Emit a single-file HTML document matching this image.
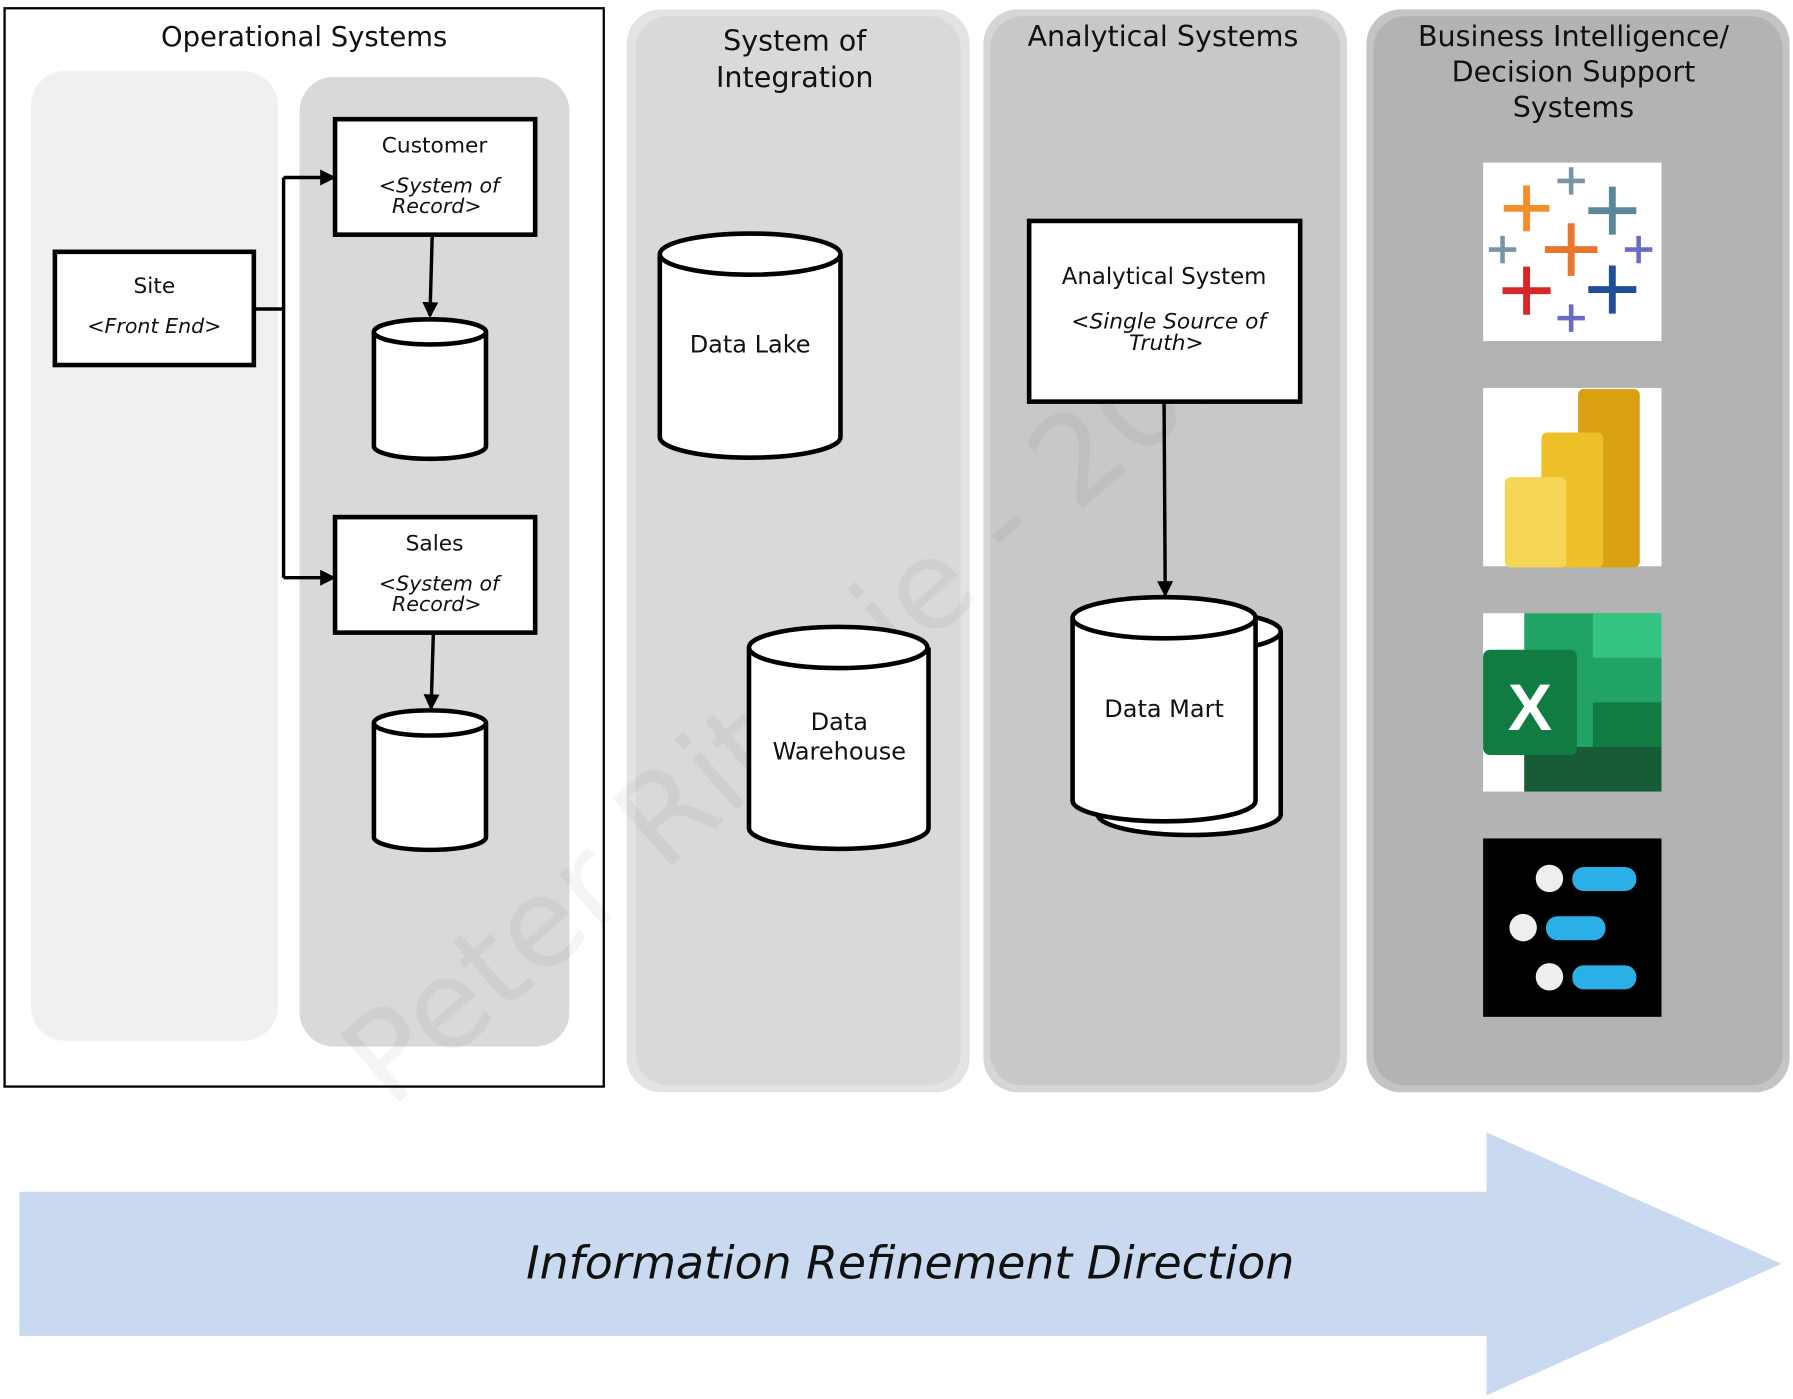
<!DOCTYPE html>
<html><head><meta charset="utf-8"><style>
html,body{margin:0;padding:0;background:#fff;}
svg{display:block}
text{font-family:"DejaVu Sans","Liberation Sans",sans-serif;fill:#111}
</style></head><body>
<svg width="1793" height="1399" viewBox="0 0 1568 1223" xmlns="http://www.w3.org/2000/svg">
<defs>
<marker id="ah" markerWidth="14" markerHeight="14" refX="12" refY="7" orient="auto" markerUnits="userSpaceOnUse" viewBox="0 0 14 14">
<path d="M0,0 L14,7 L0,14 z" fill="#000"/></marker>
</defs>
<rect x="0" y="0" width="1568" height="1223" fill="#fff"/>
<rect x="4" y="7" width="524" height="943" fill="#fff" stroke="#000" stroke-width="2"/>
<rect x="27" y="62" width="216" height="848" rx="30" fill="#f0f0f0"/>
<rect x="262" y="67" width="236" height="848" rx="30" fill="#d9d9d9"/>
<text x="266" y="40" font-size="24" text-anchor="middle">Operational Systems</text>
<rect x="548" y="8" width="300" height="947" rx="30" fill="#e3e3e3"/>
<rect x="556" y="14" width="284" height="935" rx="28" fill="#d9d9d9"/>
<text x="695" y="44" font-size="25" text-anchor="middle">System of</text>
<text x="695" y="76" font-size="25" text-anchor="middle">Integration</text>
<rect x="860" y="8" width="318" height="947" rx="30" fill="#d6d6d6"/>
<rect x="866" y="14" width="306" height="935" rx="28" fill="#c8c8c8"/>
<text x="1017" y="40" font-size="25" text-anchor="middle">Analytical Systems</text>
<rect x="1195" y="8" width="370" height="947" rx="30" fill="#c4c4c4"/>
<rect x="1201" y="14" width="358" height="935" rx="28" fill="#b3b3b3"/>
<text x="1376" y="40" font-size="25" text-anchor="middle">Business Intelligence/</text>
<text x="1376" y="71" font-size="25" text-anchor="middle">Decision Support</text>
<text x="1376" y="102" font-size="25" text-anchor="middle">Systems</text>

<text x="0" y="0" font-size="108" text-anchor="middle" transform="translate(745,620) rotate(-41)" style="fill:#000;fill-opacity:0.045">Peter Ritchie - 2025</text>

<rect x="48" y="220" width="174" height="99" fill="#fff" stroke="#000" stroke-width="4"/>
<text x="135" y="256" font-size="19" text-anchor="middle">Site</text>
<text x="135" y="291" font-size="18" text-anchor="middle" font-style="italic">&lt;Front End&gt;</text>
<rect x="293" y="104" width="175" height="101" fill="#fff" stroke="#000" stroke-width="4"/>
<text x="380" y="133" font-size="19" text-anchor="middle">Customer</text>
<text x="384" y="168" font-size="18" text-anchor="middle" font-style="italic">&lt;System of</text>
<text x="382" y="186" font-size="18" text-anchor="middle" font-style="italic">Record&gt;</text>
<rect x="293" y="452" width="175" height="101" fill="#fff" stroke="#000" stroke-width="4"/>
<text x="380" y="481" font-size="19" text-anchor="middle">Sales</text>
<text x="384" y="516" font-size="18" text-anchor="middle" font-style="italic">&lt;System of</text>
<text x="382" y="534" font-size="18" text-anchor="middle" font-style="italic">Record&gt;</text>
<path d="M222,270 L248,270 M248,155 L248,505" stroke="#000" stroke-width="3" fill="none"/>
<path d="M248,155 L292,155" stroke="#000" stroke-width="3" marker-end="url(#ah)"/>
<path d="M248,505 L292,505" stroke="#000" stroke-width="3" marker-end="url(#ah)"/>
<path d="M378,205 L376,276" stroke="#000" stroke-width="3" marker-end="url(#ah)"/>
<path d="M379,553 L377,619" stroke="#000" stroke-width="3" marker-end="url(#ah)"/>

<g stroke="#000" stroke-width="4" fill="#fff">
<path d="M327,290 L327,390 A49,11 0 0 0 425,390 L425,290"/>
<ellipse cx="376" cy="290" rx="49" ry="11"/>
<path d="M327,632 L327,732 A49,11 0 0 0 425,732 L425,632"/>
<ellipse cx="376" cy="632" rx="49" ry="11"/>
<path d="M577,222 L577,382 A79,18 0 0 0 735,382 L735,222"/>
<ellipse cx="656" cy="222" rx="79" ry="18"/>
<path d="M655,566 L655,724 A78,18 0 0 0 812,724 L812,566"/>
<ellipse cx="733" cy="566" rx="78" ry="18"/>
<path d="M960,552 L960,712 A80,18 0 0 0 1120,712 L1120,552"/>
<ellipse cx="1040" cy="552" rx="80" ry="18"/>
<path d="M938,540 L938,700 A80,18 0 0 0 1098,700 L1098,540"/>
<ellipse cx="1018" cy="540" rx="80" ry="18"/>
</g>
<text x="656" y="308" font-size="21" text-anchor="middle">Data Lake</text>
<text x="734" y="638" font-size="21" text-anchor="middle">Data</text>
<text x="734" y="664" font-size="21" text-anchor="middle">Warehouse</text>
<text x="1018" y="627" font-size="21" text-anchor="middle">Data Mart</text>

<rect x="900" y="193" width="237" height="158" fill="#fff" stroke="#000" stroke-width="4"/>
<text x="1018" y="248" font-size="20" text-anchor="middle">Analytical System</text>
<text x="1022" y="287" font-size="19" text-anchor="middle" font-style="italic">&lt;Single Source of</text>
<text x="1020" y="306" font-size="19" text-anchor="middle" font-style="italic">Truth&gt;</text>
<path d="M1018,351 L1019,520" stroke="#000" stroke-width="3" marker-end="url(#ah)"/>

<rect x="1297" y="142" width="156" height="156" fill="#fff"/>
<g stroke-width="6" fill="none">
<path d="M1374,195 v46 M1351,218 h46" stroke="#e8762d"/>
<path d="M1335,162 v40 M1315,182 h40" stroke="#f28e2b"/>
<path d="M1410,163 v42 M1389,184 h42" stroke="#59879b"/>
<path d="M1335,233 v42 M1314,254 h42" stroke="#d62728"/>
<path d="M1410,232 v42 M1389,253 h42" stroke="#1f4e9b"/>
<path d="M1374,146 v24 M1362,158 h24" stroke="#7895a8" stroke-width="4"/>
<path d="M1314,206 v24 M1302,218 h24" stroke="#7895a8" stroke-width="4"/>
<path d="M1433,206 v24 M1421,218 h24" stroke="#6a6bc8" stroke-width="4"/>
<path d="M1374,266 v24 M1362,278 h24" stroke="#6a6bc8" stroke-width="4"/>
</g>
<rect x="1297" y="339" width="156" height="156" fill="#fff"/>
<rect x="1380" y="340" width="54" height="156" rx="5" fill="#d9a112"/>
<rect x="1348" y="378" width="54" height="118" rx="5" fill="#eec027"/>
<rect x="1316" y="417" width="54" height="79" rx="5" fill="#f5d656"/>
<rect x="1297" y="536" width="156" height="156" fill="#fff"/>
<rect x="1333" y="536" width="120" height="156" fill="#21a366"/>
<rect x="1393" y="536" width="60" height="39" fill="#33c481"/>
<rect x="1393" y="614" width="60" height="39" fill="#107c41"/>
<rect x="1333" y="653" width="120" height="39" fill="#185c37"/>
<rect x="1297" y="568" width="82" height="92" rx="6" fill="#107c41"/>
<text x="1338" y="638" font-size="58" font-weight="bold" text-anchor="middle" style="fill:#fff;font-family:'Liberation Sans',sans-serif">X</text>
<rect x="1297" y="733" width="156" height="156" fill="#000"/>
<circle cx="1355" cy="768" r="12" fill="#eee"/>
<circle cx="1332" cy="811" r="12" fill="#eee"/>
<circle cx="1355" cy="854" r="12" fill="#eee"/>
<rect x="1375" y="758" width="56" height="21" rx="10" fill="#2ab0e6"/>
<rect x="1352" y="801" width="52" height="21" rx="10" fill="#2ab0e6"/>
<rect x="1375" y="844" width="56" height="21" rx="10" fill="#2ab0e6"/>

<path d="M17,1042 L1300,1042 L1300,990 L1558,1105 L1300,1220 L1300,1168 L17,1168 Z" fill="#c9d9ef"/>
<text x="796" y="1118" font-size="40" text-anchor="middle" font-style="italic">Information Refinement Direction</text>
</svg>
</body></html>
